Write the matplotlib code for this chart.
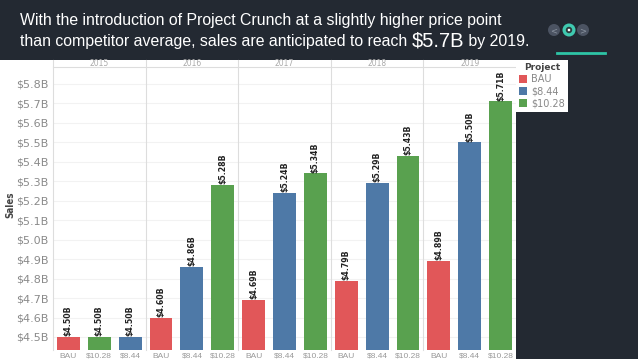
import matplotlib
matplotlib.use("Agg")
import matplotlib.pyplot as plt
from matplotlib.patches import Rectangle, Circle
import numpy as np

# data
years = ['2015', '2016', '2017', '2018', '2019']
slot_order = [['BAU', '$10.28', '$8.44'],
              ['BAU', '$8.44', '$10.28'],
              ['BAU', '$8.44', '$10.28'],
              ['BAU', '$8.44', '$10.28'],
              ['BAU', '$8.44', '$10.28']]
projects = ['BAU', '$8.44', '$10.28']
sales_bau = [4.50, 4.60, 4.69, 4.79, 4.89]
sales_844 = [4.50, 4.86, 5.24, 5.29, 5.50]
sales_1028 = [4.50, 5.28, 5.34, 5.43, 5.71]
y_ticks = [4.5, 4.6, 4.7, 4.8, 4.9, 5.0, 5.1, 5.2, 5.3, 5.4, 5.5, 5.6, 5.7, 5.8]

series = {'BAU': sales_bau, '$8.44': sales_844, '$10.28': sales_1028}
colors = {'BAU': '#e15759', '$8.44': '#4e79a7', '$10.28': '#59a14f'}

dark = '#232932'
sans = ['Liberation Sans', 'DejaVu Sans']

W, H = 638, 359
fig = plt.figure(figsize=(W / 100, H / 100), dpi=100)
fig.patch.set_facecolor(dark)

# background / decoration layer in pixel coords
bg = fig.add_axes([0, 0, 1, 1], zorder=-1)
bg.set_xlim(0, W)
bg.set_ylim(H, 0)
bg.axis('off')
bg.add_patch(Rectangle((0, 60), 516, H - 60, facecolor='white', edgecolor='none'))

# header text
title_kw = dict(color='white', family=sans, va='baseline', ha='left')
bg.text(20, 24.5, 'With the introduction of Project Crunch at a slightly higher price point',
        fontsize=11.4, **title_kw)
t1 = bg.text(20, 46, 'than competitor average, sales are anticipated to reach ', fontsize=11.4, **title_kw)
fig.canvas.draw()
r = fig.canvas.get_renderer()
inv = bg.transData.inverted()
x_end = inv.transform(t1.get_window_extent(r))[1, 0]
t2 = bg.text(x_end, 46, '$5.7B', fontsize=14.5, **title_kw)
x_end = inv.transform(t2.get_window_extent(r))[1, 0]
bg.text(x_end, 46, ' by 2019.', fontsize=11.4, **title_kw)

# nav icons
bg.add_patch(Circle((554, 30), 6, facecolor='#4b5362', edgecolor='none'))
bg.add_patch(Circle((583, 30), 6, facecolor='#4b5362', edgecolor='none'))
bg.add_patch(Circle((569, 30), 6.5, facecolor='#3fc9b0', edgecolor='none'))
bg.add_patch(Circle((569, 30), 3.2, facecolor='#2b3a3c', edgecolor='none'))
bg.add_patch(Circle((569, 30), 1.3, facecolor='white', edgecolor='none'))
bg.text(554, 30.5, '<', color='#8a93a0', fontsize=6, ha='center', va='center')
bg.text(583, 30.5, '>', color='#8a93a0', fontsize=6, ha='center', va='center')
bg.plot([557, 605], [52.5, 52.5], color='#2ec4a6', lw=2)

# main chart
ymin, ymax = 4.4332, 5.887
ax = fig.add_axes([53 / W, (H - 350) / H, (516 - 53) / W, (350 - 67) / H])
ax.set_facecolor('white')
bar_w = 0.74
handles = {}
for p in projects:
    xs = [3 * i + slot_order[i].index(p) for i in range(len(years))]
    vals = np.array(series[p])
    handles[p] = ax.bar(xs, vals - ymin, bottom=ymin, width=bar_w, color=colors[p], zorder=3)
    for x, v in zip(xs, vals):
        ax.text(x, v + 0.004, f'${v:.2f}B', rotation=90, ha='center', va='bottom',
                fontsize=6.2, family='DejaVu Sans', fontstretch='condensed',
                fontweight='bold', color='#222222', zorder=4)

ax.set_xlim(-0.5, 14.5)
ax.set_ylim(ymin, ymax)
ax.set_yticks(y_ticks)
ax.set_yticklabels([f'${v:.1f}B' for v in y_ticks])
xt = [3 * i + j for i in range(len(years)) for j in range(3)]
ax.set_xticks(xt)
ax.set_xticklabels([slot_order[i][j] for i in range(len(years)) for j in range(3)])
ax.tick_params(axis='y', length=0, labelsize=8, labelcolor='#8a8a8a', pad=3)
ax.tick_params(axis='x', length=0, labelsize=6, labelcolor='#999999', pad=2)
for lab in ax.get_xticklabels():
    lab.set_family(sans)
ax.grid(axis='y', color='#f2f2f2', lw=0.8, zorder=0)
for s in ['left', 'right', 'bottom']:
    ax.spines[s].set_visible(False)
ax.spines['top'].set_color('#dddddd')
ax.spines['top'].set_linewidth(0.8)

# panel separators reaching up into the year header row
top_frac = (350 - 60) / 283
for xb in [-0.5, 2.5, 5.5, 8.5, 11.5]:
    ax.plot([xb, xb], [0, top_frac], transform=ax.get_xaxis_transform(),
            color='#dddddd', lw=0.8, clip_on=False, zorder=2)
for i, yr in enumerate(years):
    ax.text(3 * i + 1, (350 - 63.5) / 283, yr, transform=ax.get_xaxis_transform(),
            ha='center', va='center', fontsize=5.5, color='#aaaaaa')

fig.text(10 / W, 1 - 205 / H, 'Sales', rotation=90, ha='center', va='center',
         fontsize=7, fontweight='bold', color='#444444', family='DejaVu Sans',
         fontstretch='condensed')

leg = fig.legend([handles[p] for p in projects], projects, title='Project',
                 loc='upper left', bbox_to_anchor=(516 / W, 1 - 60 / H),
                 fontsize=7, title_fontsize=6.5, handlelength=0.8, handleheight=0.8,
                 handletextpad=0.4, labelspacing=0.2, borderpad=0.35, borderaxespad=0,
                 frameon=True, fancybox=False, framealpha=1, edgecolor='white',
                 alignment='center')
leg.get_frame().set_linewidth(0)
leg.get_title().set_fontweight('bold')
leg.get_title().set_color('#444444')
for t in leg.get_texts():
    t.set_color('#888888')

fig.savefig('out.png', dpi=100, facecolor=fig.get_facecolor())
